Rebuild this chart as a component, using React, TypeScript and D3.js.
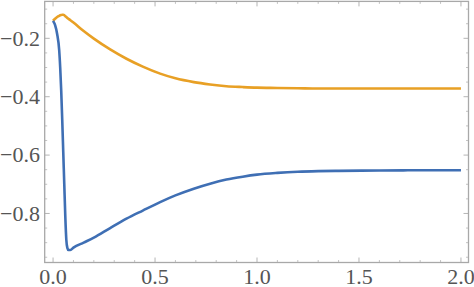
import React from "react";
import * as d3 from "d3";

const time = [0, 0.01, 0.02, 0.03, 0.035, 0.04, 0.045, 0.05, 0.055, 0.06, 0.065, 0.07, 0.075, 0.085, 0.1, 0.15, 0.2, 0.28, 0.36, 0.44, 0.525, 0.6, 0.69, 0.77, 0.85, 0.93, 1.0, 1.1, 1.2, 1.3, 1.4, 1.6, 1.8, 2.0];

const blueSeries = [-0.14, -0.155, -0.185, -0.24, -0.3, -0.38, -0.48, -0.59, -0.7, -0.81, -0.89, -0.918, -0.925, -0.925, -0.917, -0.9, -0.883, -0.85, -0.818, -0.79, -0.761, -0.738, -0.715, -0.698, -0.684, -0.674, -0.667, -0.661, -0.657, -0.655, -0.654, -0.653, -0.652, -0.652];

const orangeSeries = [-0.14, -0.133, -0.127, -0.123, -0.121, -0.12, -0.119, -0.119, -0.121, -0.124, -0.127, -0.13, -0.133, -0.138, -0.146, -0.175, -0.201, -0.238, -0.27, -0.297, -0.321, -0.337, -0.35, -0.358, -0.364, -0.367, -0.369, -0.37, -0.371, -0.372, -0.372, -0.372, -0.372, -0.372];

const xTickLabels = ["0.0", "0.5", "1.0", "1.5", "2.0"];
const xTickValues = [0, 0.5, 1.0, 1.5, 2.0];
const yTickLabels = ["\u22120.2", "\u22120.4", "\u22120.6", "\u22120.8"];
const yTickValues = [-0.2, -0.4, -0.6, -0.8];

const W = 474;
const H = 287;

export default function App() {
  const x = d3.scaleLinear().domain([-0.041, 2.037]).range([44.7, 468.5]);
  const y = d3.scaleLinear().domain([-0.968, -0.0735]).range([262.5, 1.4]);

  const [x0, x1] = x.range();
  const [yb, yt] = y.range();

  const line = d3
    .line<number>()
    .x((_, i) => x(time[i]))
    .y((d) => y(d))
    .curve(d3.curveMonotoneX);

  const xMinor = d3.range(0, 2.0001, 0.1).filter((v) => !xTickValues.some((t) => Math.abs(t - v) < 1e-6));
  const yMinor = d3.range(-0.95, -0.099, 0.05).filter((v) => !yTickValues.some((t) => Math.abs(t - v) < 1e-6));

  const tickColor = "#b5b5b5";
  const font = "'Liberation Serif', 'DejaVu Serif', serif";

  return (
    <svg width={W} height={H} style={{ position: "absolute", left: 0, top: 0, background: "#fff" }}>
      <rect x={0} y={0} width={W} height={H} fill="#fff" />
      {xTickValues.map((v) => (
        <g key={"xm" + v}>
          <line x1={x(v)} x2={x(v)} y1={yb} y2={yb - 5} stroke={tickColor} strokeWidth={1} />
          <line x1={x(v)} x2={x(v)} y1={yt} y2={yt + 5} stroke={tickColor} strokeWidth={1} />
        </g>
      ))}
      {xMinor.map((v) => (
        <g key={"xn" + v}>
          <line x1={x(v)} x2={x(v)} y1={yb} y2={yb - 2.5} stroke={tickColor} strokeWidth={0.8} />
          <line x1={x(v)} x2={x(v)} y1={yt} y2={yt + 2.5} stroke={tickColor} strokeWidth={0.8} />
        </g>
      ))}
      {yTickValues.map((v) => (
        <g key={"ym" + v}>
          <line x1={x0} x2={x0 + 5} y1={y(v)} y2={y(v)} stroke={tickColor} strokeWidth={1} />
          <line x1={x1} x2={x1 - 5} y1={y(v)} y2={y(v)} stroke={tickColor} strokeWidth={1} />
        </g>
      ))}
      {yMinor.map((v) => (
        <g key={"yn" + v}>
          <line x1={x0} x2={x0 + 2.5} y1={y(v)} y2={y(v)} stroke={tickColor} strokeWidth={0.8} />
          <line x1={x1} x2={x1 - 2.5} y1={y(v)} y2={y(v)} stroke={tickColor} strokeWidth={0.8} />
        </g>
      ))}
      <rect x={x0} y={yt} width={x1 - x0} height={yb - yt} fill="none" stroke="#a8a8a8" strokeWidth={1.3} />
      <path d={line(orangeSeries) || ""} fill="none" stroke="#e8a025" strokeWidth={2.6} strokeLinejoin="round" />
      <path d={line(blueSeries) || ""} fill="none" stroke="#3f6fb4" strokeWidth={2.6} strokeLinejoin="round" />
      {xTickValues.map((v, i) => (
        <text key={"xl" + v} x={x(v)} y={283.5} textAnchor="middle" fontFamily={font} fontSize={22} fill="#555">
          {xTickLabels[i]}
        </text>
      ))}
      {yTickValues.map((v, i) => (
        <text key={"yl" + v} x={40} y={y(v) + 7.4} textAnchor="end" fontFamily={font} fontSize={22} fill="#555">
          {yTickLabels[i]}
        </text>
      ))}
    </svg>
  );
}
